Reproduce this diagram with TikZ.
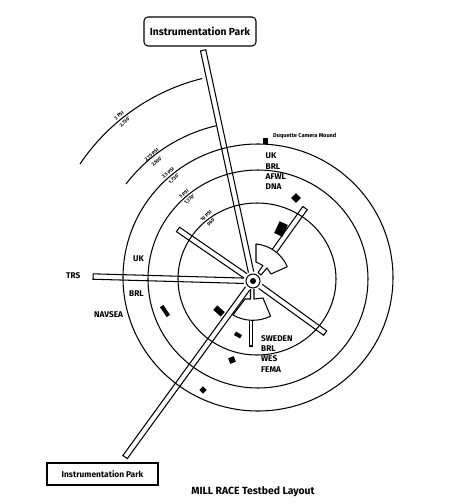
\documentclass[tikz,border=0pt]{standalone}
\usepackage{fontspec}
\setmainfont{Fira Sans}
\tikzset{
  ln/.style={line width=1.05pt,black},
  rng/.style={ln},
  blob/.style={fill=black,draw=none},
  lab/.style={font=\bfseries\fontsize{8.3}{10}\selectfont,inner sep=0,anchor=west,align=left},
  tiny/.style={font=\bfseries\fontsize{4.8}{5}\selectfont,inner sep=0,rotate=41},
  raybar/.style={ln}
}
\newcommand{\rayat}[3]{\begin{scope}[shift={(253,281)},rotate=#1]\draw[raybar] (#3,-2.7)--(#2,-2.7)--(#2,2.7)--(#3,2.7);\end{scope}}
\begin{document}
\begin{tikzpicture}[x=1pt,y=-1pt]
\useasboundingbox (0,0) rectangle (474,504);
\draw[rng] (257,279) ellipse[x radius=79,y radius=76];
\draw[rng] (258,279) ellipse[x radius=110,y radius=109];
\draw[rng] (258,277.5) ellipse[x radius=135,y radius=133.5];
\draw[rng] (80,164) arc[start angle=214,end angle=256,radius=208];
\draw[rng] (126,184) arc[start angle=217.4,end angle=256.8,radius=159];
\rayat{102.2}{236}{6}
\rayat{234}{217.6}{6}
\rayat{178.4}{160}{6}
\rayat{145.5}{91}{6}
\rayat{54.5}{89.6}{30}
\rayat{-35.8}{89}{6}
\fill[white] (253,281) circle (9.5);
\draw[ln,fill=white,line join=round] (256,244) arc[start angle=-85,end angle=-23,radius=37.5] -- (271,274) -- (267,268) -- (261,275) -- (258,272.5) -- (263,265.5) -- (256,262) -- cycle;
\draw[ln,fill=white] (250.5,289) -- (250.5,299) -- (245,299) -- (233,315) arc[start angle=120,end angle=63.5,radius=39.7] -- (263,298) -- (254,299) -- (254,289);
\draw[ln,fill=white] (249.5,320.7) -- (249.5,346) -- (252.8,346) -- (252.8,320.7);
\draw[ln,fill=white] (253,281) circle (7);
\fill (253,281) circle (3);
\node[draw,ln,rounded corners=4pt,minimum width=112pt,minimum height=29pt,inner sep=0,font=\bfseries\fontsize{10.3}{12}\selectfont] (top) at (200,31.5) {Instrumentation Park};
\node[draw,ln,minimum width=111pt,minimum height=22pt,inner sep=0,font=\bfseries\fontsize{8.4}{10}\selectfont] (bot) at (102.5,474) {Instrumentation Park};
\node[font=\bfseries\fontsize{10.4}{12}\selectfont,inner sep=0] (title) at (253,492) {MILL RACE Testbed Layout};
\fill[blob] (262.5,138) rectangle (267.5,144);
\node[font=\bfseries\fontsize{5.6}{7}\selectfont,inner sep=0,anchor=west] (cam) at (273,136) {Duquette Camera Mound};
\node[lab] (n1) at (265.5,156) {UK};
\node[lab] (n2) at (265.5,166.5) {BRL};
\node[lab] (n3) at (265.5,176.5) {AFWL};
\node[lab] (n4) at (265.5,187) {DNA};
\node[lab] (s1) at (261,339) {SWEDEN};
\node[lab] (s2) at (261,349) {BRL};
\node[lab] (s3) at (261,359) {WES};
\node[lab] (s4) at (261,370) {FEMA};
\node[lab] (w1) at (133,258.5) {UK};
\node[lab] (w2) at (129,294) {BRL};
\node[lab] (w3) at (94,315) {NAVSEA};
\node[lab] (trs) at (66,275.5) {TRS};
\fill[blob,rotate around={-45:(296,198)}] (292.5,194.5) rectangle (299.5,201.5);
\fill[blob,rotate around={65:(281,229)}] (274.5,224.5) rectangle (287.5,233.5);
\fill[blob,rotate around={-56:(165,311)}] (159,309) rectangle (171,313);
\fill[blob,rotate around={-42:(219,311)}] (214,308) rectangle (224,314);
\fill[blob,rotate around={-30:(238,335)}] (234.5,333) rectangle (241.5,337);
\fill[blob,rotate around={20:(232,360)}] (229,357) rectangle (235,363);
\fill[blob,rotate around={45:(203,390)}] (200.5,387.5) rectangle (205.5,392.5);
\node[tiny] (p1a) at (119,115.5) {3 PSI};
\node[tiny] (p1b) at (125,122) {2,730'};
\node[tiny] (p2a) at (151.5,155) {2.75 PSI};
\node[tiny] (p2b) at (157,161.5) {2,100'};
\node[tiny] (p3a) at (168,173) {3.5 PSI};
\node[tiny] (p3b) at (174,179) {1,730'};
\node[tiny] (p4a) at (184,194) {5 PSI};
\node[tiny] (p4b) at (189.5,199.5) {1,370'};
\node[tiny] (p5a) at (206,216) {10 PSI};
\node[tiny] (p5b) at (211,222) {965'};
\end{tikzpicture}
\end{document}
